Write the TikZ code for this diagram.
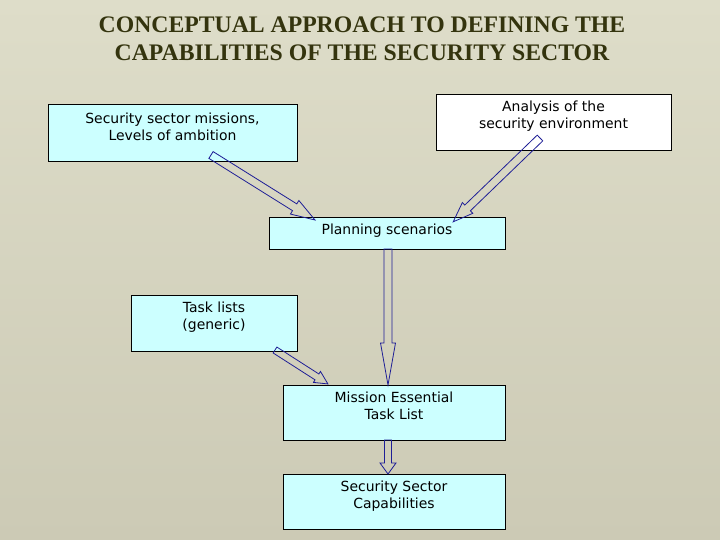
\documentclass[tikz,border=0pt]{standalone}
\usepackage{fontspec}
\newfontfamily\titlefont{Liberation Serif}
\newfontfamily\boxfont{DejaVu Sans}
\usepackage{tikz}
\usetikzlibrary{calc}

\definecolor{bgtop}{RGB}{222,221,201}
\definecolor{bgbot}{RGB}{204,202,181}
\definecolor{titlecol}{RGB}{52,52,14}
\definecolor{boxfill}{RGB}{204,255,255}
\definecolor{arrcol}{RGB}{30,30,150}

% hollow block arrow: from, to, shaft half width, head length, head half width
\newcommand\blockarrow[5]{%
  \pgfpointdiff{\pgfpointanchor{#1}{center}}{\pgfpointanchor{#2}{center}}%
  \pgfgetlastxy\bax\bay
  \pgfmathsetmacro\baang{atan2(\bay,\bax)}%
  \pgfmathsetmacro\balen{veclen(\bax,\bay)}%
  \begin{scope}[shift={(#1)}, rotate=\baang]
    \draw[blockarr] (0pt,-#3) -- (\balen pt-#4,-#3) -- (\balen pt-#4,-#5) -- (\balen pt,0pt)
      -- (\balen pt-#4,#5) -- (\balen pt-#4,#3) -- (0pt,#3) -- cycle;
  \end{scope}}

\begin{document}
\begin{tikzpicture}[x=1bp, y=-1bp,
  capbox/.style={draw=black, line width=0.8bp, fill=boxfill, inner sep=0pt},
  boxtext/.style={anchor=north, yshift=-4bp, align=center, inner sep=3bp, font=\boxfont\fontsize{14}{16.8}\selectfont},
  blockarr/.style={draw=arrcol, line width=0.8bp, line join=miter}
]
  \useasboundingbox (0,0) rectangle (720,540);
  \shade[top color=bgtop, bottom color=bgbot] (0,0) rectangle (720,540);

  \node[font=\titlefont\bfseries\fontsize{23.8}{28}\selectfont, text=titlecol, align=center] (title) at (362,39)
    {CONCEPTUAL APPROACH TO DEFINING THE\\CAPABILITIES OF THE SECURITY SECTOR};

  \node[capbox, minimum width=249bp, minimum height=57bp,
    label={[boxtext, yshift=-2bp]north:Security sector missions,\\Levels of ambition}] (missions) at (172.5,132.5) {};
  \node[capbox, fill=white, minimum width=235bp, minimum height=56bp,
    label={[boxtext]north:Analysis of the\\security environment}] (analysis) at (553.5,122) {};
  \node[capbox, minimum width=236bp, minimum height=32bp,
    label={[boxtext]north:Planning scenarios}] (plan) at (387,233) {};
  \node[capbox, minimum width=166bp, minimum height=56bp,
    label={[boxtext]north:Task lists\\(generic)}] (tasks) at (214,323) {};
  \node[capbox, minimum width=222bp, minimum height=55bp,
    label={[boxtext]north:Mission Essential\\Task List}] (metl) at (394,412.5) {};
  \node[capbox, minimum width=222bp, minimum height=55bp,
    label={[boxtext]north:Security Sector\\Capabilities}] (caps) at (394,501.5) {};

  \coordinate (missions-out) at (211,155);
  \coordinate (plan-in1) at (315,220);
  \coordinate (analysis-out) at (540,138);
  \coordinate (plan-in2) at (453,222);
  \coordinate (plan-out) at (388,249);
  \coordinate (metl-in1) at (388,385);
  \coordinate (tasks-out) at (275,350);
  \coordinate (metl-in2) at (328,384);
  \coordinate (metl-out) at (388,440);
  \coordinate (caps-in) at (388,474);

  \blockarrow{missions-out}{plan-in1}{4bp}{24bp}{8bp}
  \blockarrow{analysis-out}{plan-in2}{4bp}{20bp}{7.5bp}
  \blockarrow{plan-out}{metl-in1}{4bp}{42bp}{7.5bp}
  \blockarrow{tasks-out}{metl-in2}{3.5bp}{13bp}{6.5bp}
  \blockarrow{metl-out}{caps-in}{3.5bp}{11bp}{8bp}
\end{tikzpicture}
\end{document}
